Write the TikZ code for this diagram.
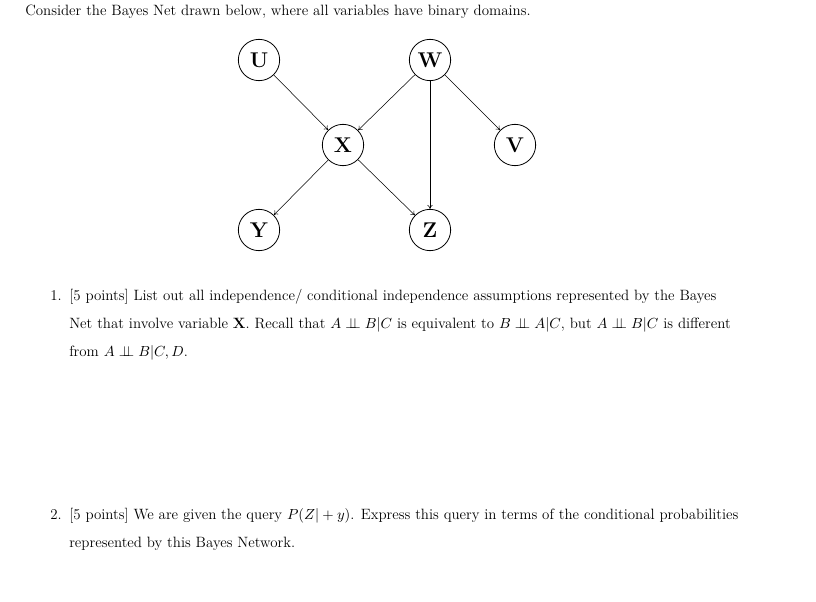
\documentclass[tikz,border=0pt]{standalone}
\usetikzlibrary{arrows.meta}
\newcommand{\indep}{\mathrel{\perp\!\!\!\perp}}
\begin{document}
\fontsize{11.2pt}{13pt}\selectfont
\begin{tikzpicture}[x=0.75pt,y=-0.75pt,
  bn/.style={circle,draw,line width=0.6pt,minimum size=31pt,inner sep=0pt,font=\fontsize{16pt}{18pt}\selectfont\bfseries},
  edge/.style={-{To[length=3pt,width=4pt]},line width=0.4pt},
  txt/.style={anchor=base west,inner sep=0pt}]
\useasboundingbox (0,0) rectangle (816,602);
\node[txt] (t0) at (25,16) {Consider the Bayes Net drawn below, where all variables have binary domains.};
\node[bn] (U) at (259,60) {U};
\node[bn] (W) at (430,60) {W};
\node[bn] (X) at (343,145) {X};
\node[bn] (V) at (515,145) {V};
\node[bn] (Y) at (259,230) {Y};
\node[bn] (Z) at (430,230) {Z};
\draw[edge] (U) -- (X);
\draw[edge] (W) -- (X);
\draw[edge] (W) -- (V);
\draw[edge] (W) -- (Z);
\draw[edge] (X) -- (Y);
\draw[edge] (X) -- (Z);
\node[txt] (n1) at (50,300) {1.};
\node[txt] (l1) at (69,300) {[5 points] List out all independence/ conditional independence assumptions represented by the Bayes};
\node[txt] (l2) at (69,328) {Net that involve variable \textbf{X}. Recall that $A\indep B|C$ is equivalent to $B\indep A|C$, but $A\indep B|C$ is different};
\node[txt] (l3) at (69,356) {from $A\indep B|C,D$.};
\node[txt] (n2) at (50,519) {2.};
\node[txt] (m1) at (69,519) {[5 points] We are given the query $P(Z|+y)$. Express this query in terms of the conditional probabilities};
\node[txt] (m2) at (69,547) {represented by this Bayes Network.};
\end{tikzpicture}
\end{document}
